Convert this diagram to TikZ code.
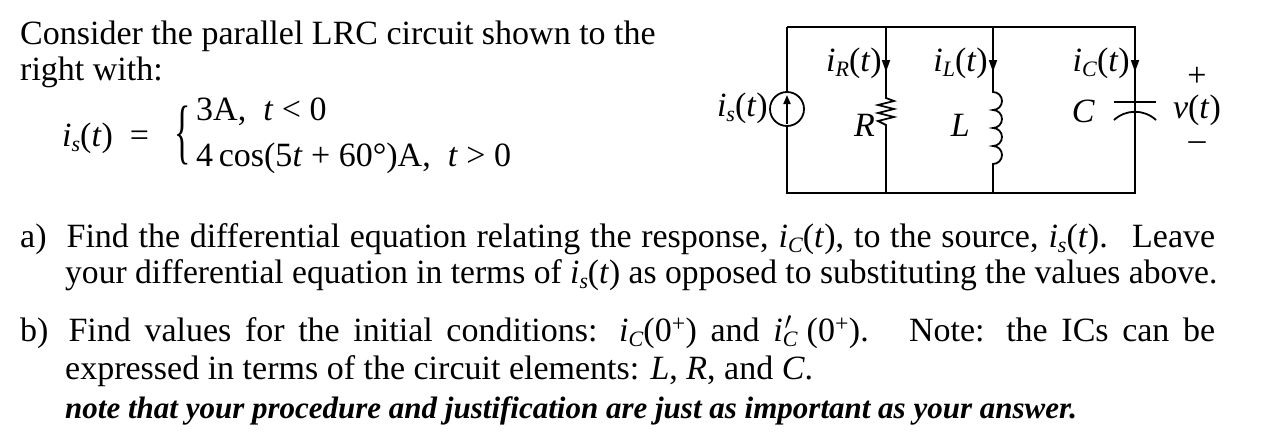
\documentclass[tikz,border=0pt]{standalone}
\usepackage{fontspec}
\setmainfont{Liberation Serif}
\usetikzlibrary{arrows.meta}
\newcommand{\I}[1]{\textit{#1}}
\newcommand{\sub}[1]{\raisebox{-5pt}{\fontsize{22}{22}\selectfont\I{#1}}}
\newcommand{\ssub}[1]{\raisebox{-5pt}{\fontsize{22}{22}\selectfont\I{#1}}}
\begin{document}
\begin{tikzpicture}[x=1pt,y=-1pt,
  txt/.style={anchor=base west,inner sep=0pt,font=\fontsize{34}{40}\selectfont},
  lbl/.style={inner sep=0pt,font=\fontsize{34}{38}\selectfont},
  wire/.style={line width=1.8pt},
  arr/.style={-{Triangle[length=12pt,width=8pt]}}]
\useasboundingbox (0,0) rectangle (1280,447);
\node[txt] (l1) at (20,44) {Consider the parallel LRC circuit shown to the};
\node[txt] (l2) at (20,80) {right with:};
\node[txt] (is) at (62,146) {\I{i}\sub{s}(\I{t}) \ =};
\node[inner sep=0pt] (br) at (183,136) {\fontsize{34}{40}\selectfont\scalebox{1}[2.1]{\{}};
\node[txt] (c1) at (196,120) {3A,\ \ \I{t} < 0};
\node[txt] (c2) at (196,166) {4\,cos(5\I{t} + 60°)A,\ \ \I{t} > 0};
\node[txt] (a1) at (20,247) {\hbox to 1195pt{a)\kern20pt Find the differential equation relating the response, \I{i}\sub{C}(\I{t}), to the source, \I{i}\sub{s}(\I{t}). \ Leave}};
\node[txt] (a2) at (65,283) {\scalebox{0.988}[1]{your differential equation in terms of \I{i}\sub{s}(\I{t}) as opposed to substituting the values above.}};
\node[txt] (b1) at (20,341) {\hbox to 1195pt{b)\kern20pt Find values for the initial conditions: \I{i}\sub{C}(0\textsuperscript{+}) and \I{i}\sub{C}\kern-13pt\raisebox{2pt}{\I{$'$}}\kern9pt\,(0\textsuperscript{+}). \ Note: the ICs can be}};
\node[txt] (b2) at (65,379) {expressed in terms of the circuit elements: \I{L}, \I{R}, and \I{C}.};
\node[txt,font=\fontsize{31}{36}\selectfont] (b3) at (65,418) {\textbf{\textit{note that your procedure and justification are just as important as your answer.}}};
% circuit
\coordinate (tl) at (787,27); \coordinate (tr) at (1135,27);
\coordinate (bl) at (787,193); \coordinate (br2) at (1135,193);
\coordinate (tR) at (886,27); \coordinate (bR) at (886,193);
\coordinate (tL) at (993,27); \coordinate (bL) at (993,193);
\draw[wire] (tl) -- (tr) -- (br2) -- (bl) -- (tl);
\node[draw,circle,line width=1.8pt,minimum size=34pt,fill=white,inner sep=0pt] (src) at (787,109) {};
\draw[line width=1.8pt,-{Triangle[length=9pt,width=7pt]}] (787,124) -- (787,95);
\node[lbl,anchor=east] (isl) at (768,108) {\I{i}\ssub{s}(\I{t})};
% resistor
\draw[wire] (tR) -- (886,98) -- (894,101) -- (878,105) -- (894,109) -- (878,113) -- (894,117) -- (878,121) -- (886,125) -- (bR);
\node[lbl,anchor=east] (Rl) at (875,125) {\I{R}};
% inductor
\draw[wire] (tL) -- (993,92)
  arc[start angle=-90,end angle=90,radius=9] arc[start angle=-90,end angle=90,radius=9]
  arc[start angle=-90,end angle=90,radius=9] arc[start angle=-90,end angle=90,radius=9] -- (bL);
\node[lbl,anchor=east] (Ll) at (970,125) {\I{L}};
% capacitor
\draw[wire] (tr) -- (1135,102);
\draw[wire] (1114,102) -- (1156,102);
\draw[wire] (1114,120) .. controls (1126,109) and (1144,109) .. (1156,120);
\draw[wire] (1135,111) -- (br2);
\node[lbl,anchor=east] (Cl) at (1095,111) {\I{C}};
% arrows
\draw[wire,arr] (886,27) -- (886,72);
\draw[wire,arr] (993,27) -- (993,72);
\draw[wire,arr] (1135,27) -- (1135,72);
\node[lbl,anchor=east] (iR) at (882,63) {\I{i}\ssub{R}(\I{t})};
\node[lbl,anchor=east] (iL) at (988,63) {\I{i}\ssub{L}(\I{t})};
\node[lbl,anchor=east] (iC) at (1130,63) {\I{i}\ssub{C}(\I{t})};
\node[lbl] (pl) at (1197,77) {+};
\node[lbl] (vt) at (1197,110) {\I{v}(\I{t})};
\node[lbl] (mi) at (1197,146) {\textendash};
\end{tikzpicture}
\end{document}
